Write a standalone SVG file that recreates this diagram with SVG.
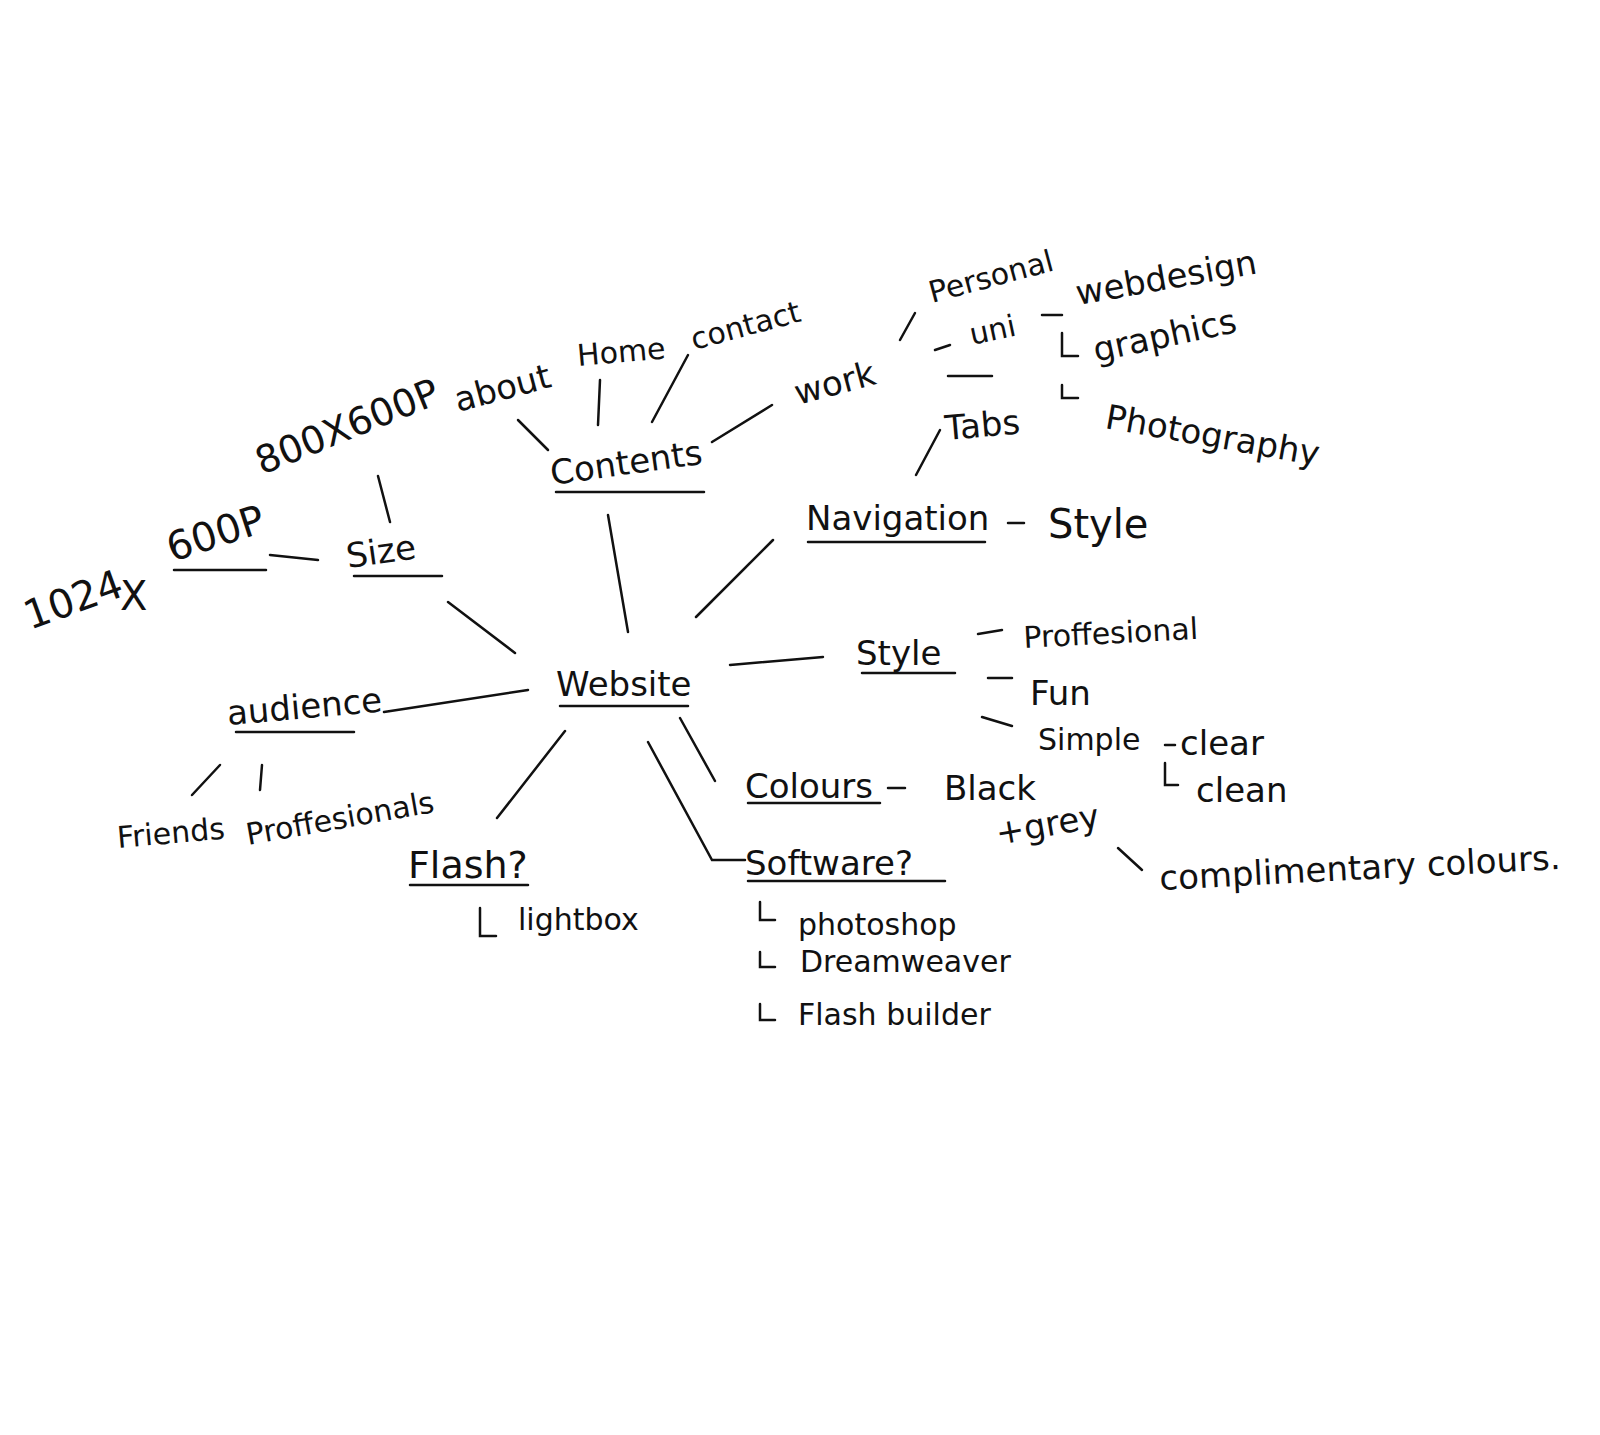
<svg xmlns="http://www.w3.org/2000/svg" width="1600" height="1435" viewBox="0 0 1600 1435">
<style>
text{font-family:"DejaVu Sans","Liberation Sans",sans-serif;fill:#111;font-size:34px}
.s{font-size:30px}
.l{stroke:#111;stroke-width:2.5;fill:none;stroke-linecap:round}
</style>
<rect width="1600" height="1435" fill="#fff"/>
<g id="connectors" class="l">
<path d="M560 706H688"/><path d="M556 492H704"/><path d="M354 576H442"/><path d="M174 570H266"/>
<path d="M236 732H354"/><path d="M808 542H985"/><path d="M862 673H955"/><path d="M748 803H880"/>
<path d="M410 885H528"/><path d="M748 881H945"/>
<path d="M628 632L608 515"/><path d="M515 653L448 602"/><path d="M528 690L384 712"/><path d="M696 617L773 540"/>
<path d="M730 665L823 657"/><path d="M680 718L715 781"/><path d="M648 742L712 860H745"/><path d="M565 731L497 818"/>
<path d="M548 450L518 420"/><path d="M598 425L600 380"/><path d="M652 422L688 355"/><path d="M712 442L772 405"/>
<path d="M390 522L378 476"/><path d="M270 555L318 560"/><path d="M916 475L940 430"/><path d="M900 340L915 313"/>
<path d="M935 350L950 345"/><path d="M948 376H992"/><path d="M1008 523H1024"/><path d="M978 634L1002 630"/>
<path d="M988 678H1012"/><path d="M982 717L1012 726"/><path d="M1165 745H1175"/><path d="M888 788H905"/>
<path d="M1042 315H1062"/><path d="M1118 848L1142 870"/><path d="M192 795L220 765"/><path d="M262 765L260 790"/>
<path d="M1062 333V356H1078"/><path d="M1062 385V398H1078"/><path d="M1165 763V785H1178"/>
<path d="M480 908V936H496"/><path d="M760 902V920H775"/><path d="M760 952V967H775"/><path d="M760 1004V1020H775"/>
</g>
<g id="website"><text x="556" y="696">Website</text></g>
<g id="contents"><text x="552" y="485" transform="rotate(-8 552 485)">Contents</text></g>
<g id="size"><text x="348" y="568" transform="rotate(-8 348 568)">Size</text></g>
<g id="res1"><text x="30" y="630" transform="rotate(-20 30 630)" style="font-size:40px">1024</text><text x="120" y="610" style="font-size:40px">X</text><text x="172" y="562" transform="rotate(-18 172 562)" style="font-size:40px">600P</text></g>
<g id="res2"><text x="262" y="475" transform="rotate(-22 262 475)" style="font-size:38px">800X600P</text></g>
<g id="about"><text x="458" y="412" transform="rotate(-15 458 412)">about</text></g>
<g id="home"><text x="578" y="366" class="s" transform="rotate(-5 578 366)">Home</text></g>
<g id="contact"><text x="694" y="350" class="s" transform="rotate(-15 694 350)">contact</text></g>
<g id="work"><text x="798" y="405" transform="rotate(-15 798 405)">work</text></g>
<g id="personal"><text x="932" y="303" class="s" transform="rotate(-15 932 303)">Personal</text></g>
<g id="uni"><text x="972" y="345" class="s" transform="rotate(-12 972 345)">uni</text></g>
<g id="webdesign"><text x="1078" y="305" transform="rotate(-10 1078 305)">webdesign</text></g>
<g id="graphics"><text x="1096" y="362" transform="rotate(-12 1096 362)">graphics</text></g>
<g id="photography"><text x="1104" y="428" transform="rotate(10 1104 428)">Photography</text></g>
<g id="tabs"><text x="946" y="440" transform="rotate(-5 946 440)">Tabs</text></g>
<g id="navigation"><text x="806" y="530">Navigation</text></g>
<g id="navstyle"><text x="1048" y="538" style="font-size:40px">Style</text></g>
<g id="style"><text x="856" y="665">Style</text></g>
<g id="prof"><text x="1024" y="648" class="s" transform="rotate(-3 1024 648)">Proffesional</text></g>
<g id="fun"><text x="1030" y="705">Fun</text></g>
<g id="simple"><text x="1038" y="750" class="s">Simple</text></g>
<g id="clear"><text x="1180" y="755">clear</text></g>
<g id="clean"><text x="1196" y="802">clean</text></g>
<g id="colours"><text x="745" y="798">Colours</text></g>
<g id="black"><text x="944" y="800">Black</text></g>
<g id="grey"><text x="998" y="845" transform="rotate(-10 998 845)">+grey</text></g>
<g id="compl"><text x="1160" y="890" transform="rotate(-3 1160 890)">complimentary colours.</text></g>
<g id="software"><text x="745" y="875">Software?</text></g>
<g id="ps"><text x="798" y="935" class="s">photoshop</text></g>
<g id="dw"><text x="800" y="972" class="s">Dreamweaver</text></g>
<g id="fb"><text x="798" y="1025" class="s">Flash builder</text></g>
<g id="flash"><text x="408" y="878" style="font-size:38px">Flash?</text></g>
<g id="lightbox"><text x="518" y="930" class="s">lightbox</text></g>
<g id="audience"><text x="228" y="725" transform="rotate(-5 228 725)">audience</text></g>
<g id="friends"><text x="118" y="848" class="s" transform="rotate(-5 118 848)">Friends</text></g>
<g id="profs"><text x="248" y="845" class="s" transform="rotate(-10 248 845)">Proffesionals</text></g>
</svg>
